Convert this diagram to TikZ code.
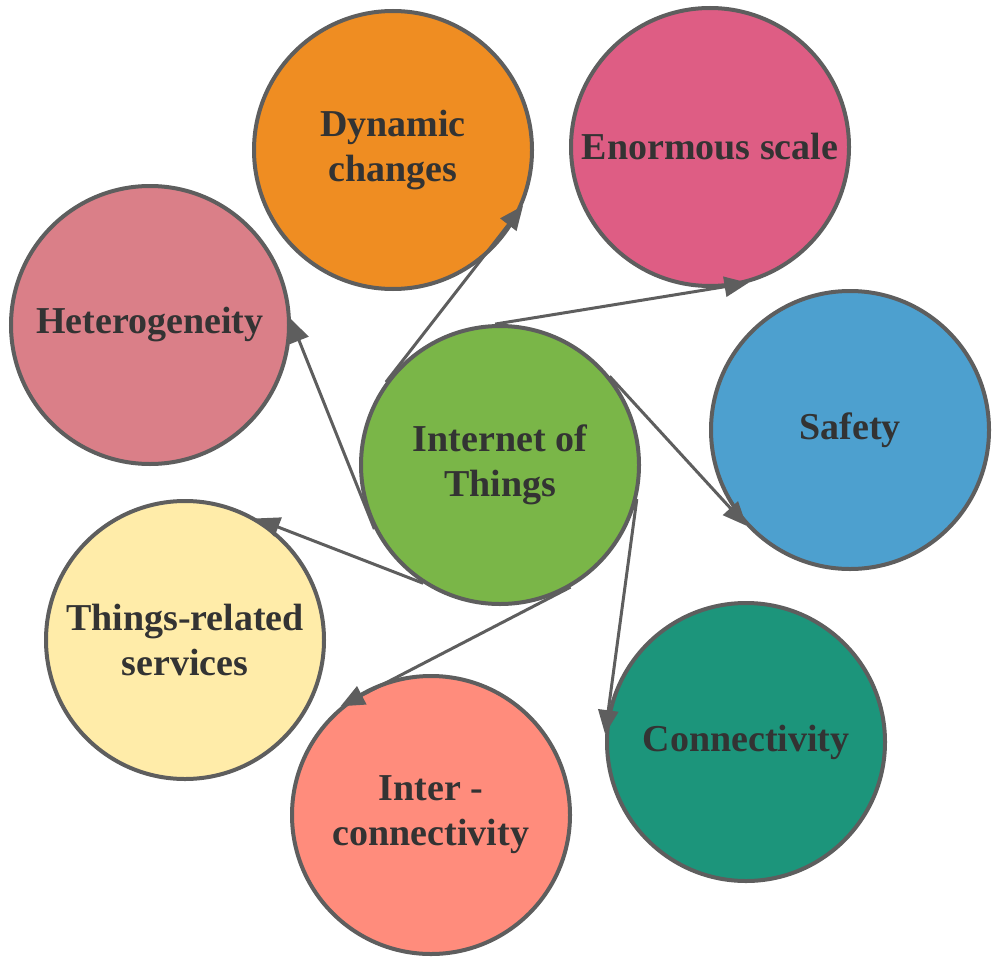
\documentclass[tikz,border=0pt]{standalone}
\usepackage{fontspec}
\setmainfont{Liberation Serif}
\usetikzlibrary{arrows.meta}
\usepackage{xcolor}
\definecolor{iotgreen}{HTML}{7AB648}
\definecolor{dynorange}{HTML}{EF8D22}
\definecolor{scalepink}{HTML}{DE5D84}
\definecolor{heterorose}{HTML}{DA7F88}
\definecolor{safeblue}{HTML}{4DA0CF}
\definecolor{thingsyellow}{HTML}{FFECA9}
\definecolor{intersalmon}{HTML}{FF8C7C}
\definecolor{connteal}{HTML}{1C957B}
\definecolor{rimgray}{HTML}{5E5E5E}
\definecolor{labeltext}{HTML}{333333}

\begin{document}
\begin{tikzpicture}[
  x=0.5pt, y=-0.5pt,
  font=\fontsize{19}{22.5}\selectfont\bfseries,
  bubble/.style={circle, draw=rimgray, line width=2pt, minimum size=139pt,
                 inner sep=0pt, align=center, text=labeltext},
  flow/.style={-{Triangle[length=12pt, width=10pt]}, draw=rimgray,
               line width=1.5pt, shorten >=-1pt},
]
\useasboundingbox (0,0) rectangle (1000,963);

\node[bubble, fill=iotgreen]     (iot)     at (500,465) {Internet of\\Things};
\node[bubble, fill=dynorange]    (dynamic) at (393,150) {Dynamic\\changes};
\node[bubble, fill=scalepink]    (scale)   at (710,147) {Enormous scale};
\node[bubble, fill=heterorose]   (hetero)  at (150,325) {Heterogeneity};
\node[bubble, fill=safeblue]     (safety)  at (850,430) {Safety};
\node[bubble, fill=thingsyellow] (things)  at (185,640) {Things-related\\services};
\node[bubble, fill=intersalmon]  (inter)   at (431,815) {Inter -\\connectivity};
\node[bubble, fill=connteal]     (conn)    at (746,742) {Connectivity};

\draw[flow] (iot.144.6) -- (dynamic.336);
\draw[flow] (iot.92.4)  -- (scale.285.3);
\draw[flow] (iot.39)    -- (safety.222);
\draw[flow] (iot.207.6) -- (hetero.2.7);
\draw[flow] (iot.237.3) -- (things.59.7);
\draw[flow] (iot.300.7) -- (inter.129.8);
\draw[flow] (iot.346)   -- (conn.176.4);

\end{tikzpicture}
\end{document}
